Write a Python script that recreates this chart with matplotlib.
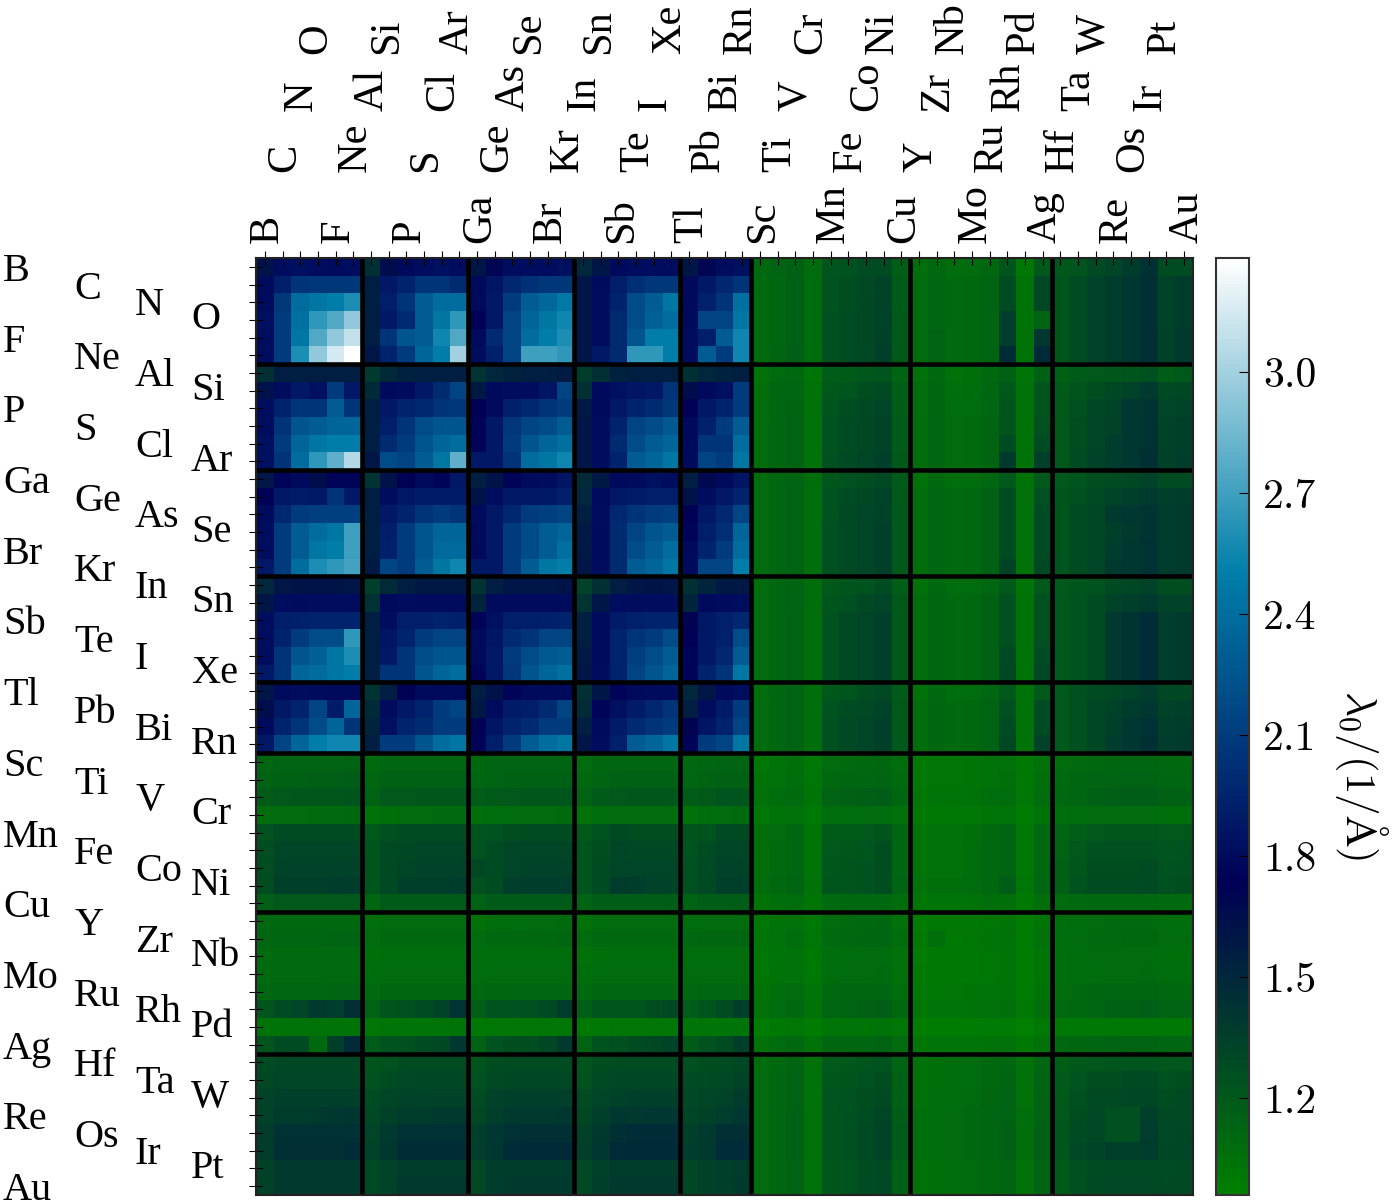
import numpy as np
import matplotlib
matplotlib.use("Agg")
import matplotlib.pyplot as plt
from matplotlib.transforms import ScaledTranslation

plt.rcParams['mathtext.fontset'] = 'cm'

elements = ['B', 'C', 'N', 'O', 'F', 'Ne', 'Al', 'Si', 'P', 'S', 'Cl', 'Ar', 'Ga', 'Ge', 'As', 'Se', 'Br', 'Kr',
            'In', 'Sn', 'Sb', 'Te', 'I', 'Xe', 'Tl', 'Pb', 'Bi', 'Rn', 'Sc', 'Ti', 'V', 'Cr', 'Mn', 'Fe', 'Co', 'Ni',
            'Cu', 'Y', 'Zr', 'Nb', 'Mo', 'Ru', 'Rh', 'Pd', 'Ag', 'Hf', 'Ta', 'W', 'Re', 'Os', 'Ir', 'Pt', 'Au']
block_edges = [6, 12, 18, 24, 28, 37, 45]
cbar_ticks = [1.2, 1.5, 1.8, 2.1, 2.4, 2.7, 3.0]

# p block rows, p block columns
pp = [
    [1.62,1.82,1.84,1.82,1.81,1.82, 1.45,1.65,1.80,1.82,1.84,1.82, 1.60,1.70,1.82,1.82,1.82,1.84, 1.50,1.60,1.80,1.82,1.82,1.82, 1.60,1.70,1.82,1.84],
    [1.81,1.92,2.05,2.07,2.07,2.07, 1.55,1.88,1.95,2.05,2.05,2.00, 1.80,1.86,1.97,2.03,2.07,2.07, 1.60,1.81,1.92,2.02,2.07,2.07, 1.80,1.88,1.97,2.05],
    [1.81,2.07,2.40,2.45,2.50,2.60, 1.55,1.92,2.05,2.30,2.40,2.40, 1.80,1.88,2.10,2.30,2.37,2.47, 1.60,1.82,1.95,2.20,2.30,2.45, 1.80,1.94,2.05,2.42],
    [1.84,2.10,2.42,2.65,2.75,2.95, 1.55,1.88,2.00,2.30,2.45,2.65, 1.74,1.88,2.15,2.35,2.45,2.55, 1.60,1.82,2.00,2.20,2.33,2.40, 1.80,2.15,2.15,2.45],
    [1.82,2.10,2.45,2.75,2.95,3.10, 1.55,2.05,2.25,2.30,2.55,2.75, 1.80,2.00,2.15,2.40,2.50,2.60, 1.60,1.82,2.00,2.25,2.50,2.50, 1.82,1.92,2.30,2.55],
    [1.82,2.10,2.60,2.95,3.15,3.28, 1.60,1.95,2.10,2.35,2.50,3.00, 1.82,1.94,2.15,2.70,2.70,2.65, 1.60,1.88,2.00,2.65,2.65,2.50, 1.82,2.30,2.10,2.55],
    [1.45,1.55,1.55,1.55,1.55,1.55, 1.38,1.48,1.53,1.55,1.55,1.55, 1.42,1.50,1.53,1.55,1.55,1.57, 1.37,1.45,1.53,1.55,1.55,1.55, 1.45,1.50,1.53,1.55],
    [1.63,1.82,1.88,1.84,2.10,1.88, 1.48,1.80,1.81,1.88,2.00,2.15, 1.58,1.80,1.82,1.82,1.86,2.15, 1.45,1.80,1.84,1.86,1.88,2.05, 1.65,1.80,1.84,2.10],
    [1.82,1.95,2.05,2.05,2.30,2.05, 1.55,1.88,1.95,1.98,2.05,2.07, 1.74,1.81,1.92,1.98,2.05,2.10, 1.58,1.80,1.88,1.95,2.00,2.07, 1.74,1.88,1.95,2.10],
    [1.82,2.05,2.25,2.30,2.35,2.35, 1.55,1.92,2.05,2.20,2.25,2.25, 1.76,1.88,2.07,2.15,2.20,2.30, 1.60,1.82,1.95,2.15,2.20,2.28, 1.80,1.94,2.10,2.30],
    [1.84,2.10,2.35,2.45,2.50,2.50, 1.55,2.00,2.10,2.25,2.35,2.40, 1.76,1.88,2.10,2.25,2.35,2.42, 1.60,1.82,2.00,2.20,2.30,2.35, 1.80,2.05,2.05,2.40],
    [1.84,2.05,2.40,2.65,2.80,3.05, 1.60,2.20,2.15,2.30,2.45,2.80, 1.88,1.88,2.05,2.40,2.45,2.55, 1.60,1.82,1.95,2.30,2.35,2.45, 1.80,2.15,2.10,2.45],
    [1.60,1.76,1.80,1.65,1.76,1.76, 1.42,1.62,1.74,1.80,1.76,1.88, 1.55,1.62,1.76,1.81,1.82,1.86, 1.48,1.58,1.80,1.81,1.84,1.82, 1.55,1.68,1.80,1.86],
    [1.74,1.88,1.90,1.89,2.05,1.88, 1.55,1.82,1.88,1.90,1.90,1.90, 1.62,1.82,1.88,1.88,1.89,1.94, 1.50,1.81,1.88,1.90,1.92,1.92, 1.62,1.82,1.88,1.95],
    [1.81,1.98,2.10,2.12,2.12,2.12, 1.55,1.88,1.95,2.05,2.10,2.05, 1.81,1.88,1.98,2.10,2.12,2.15, 1.55,1.82,1.98,2.05,2.10,2.12, 1.74,1.88,1.98,2.15],
    [1.82,2.10,2.30,2.40,2.45,2.70, 1.55,1.92,2.10,2.25,2.35,2.35, 1.80,1.88,2.10,2.20,2.30,2.35, 1.58,1.81,2.00,2.15,2.25,2.30, 1.76,1.92,2.02,2.35],
    [1.82,2.10,2.30,2.45,2.50,2.70, 1.55,1.94,2.10,2.25,2.38,2.38, 1.80,1.88,2.10,2.20,2.30,2.42, 1.58,1.81,2.00,2.20,2.30,2.40, 1.80,1.95,2.10,2.40],
    [1.88,2.10,2.40,2.60,2.65,2.72, 1.58,2.15,2.10,2.30,2.45,2.55, 1.88,1.88,2.10,2.30,2.45,2.50, 1.60,1.82,2.00,2.30,2.35,2.45, 1.80,2.15,2.15,2.50],
    [1.50,1.60,1.62,1.62,1.62,1.60, 1.35,1.48,1.55,1.58,1.58,1.58, 1.42,1.55,1.60,1.60,1.60,1.62, 1.33,1.45,1.55,1.60,1.62,1.60, 1.45,1.52,1.58,1.58],
    [1.60,1.82,1.81,1.82,1.82,1.82, 1.43,1.80,1.82,1.81,1.81,1.81, 1.52,1.81,1.81,1.81,1.81,1.81, 1.42,1.60,1.82,1.82,1.82,1.82, 1.52,1.80,1.81,1.82],
    [1.82,1.92,1.94,1.95,1.95,1.95, 1.55,1.82,1.92,1.92,1.95,1.94, 1.76,1.84,1.92,1.92,1.94,1.95, 1.55,1.81,1.90,1.94,1.95,1.95, 1.72,1.88,1.94,1.97],
    [1.82,1.95,2.10,2.20,2.20,2.65, 1.55,1.86,1.95,2.10,2.15,2.15, 1.80,1.86,2.00,2.05,2.15,2.15, 1.55,1.81,1.95,2.05,2.10,2.20, 1.74,1.88,1.94,2.20],
    [1.82,2.05,2.25,2.32,2.45,2.60, 1.55,1.88,2.05,2.20,2.25,2.25, 1.80,1.88,2.10,2.20,2.28,2.30, 1.58,1.81,1.95,2.12,2.20,2.30, 1.76,1.88,1.97,2.30],
    [1.88,2.05,2.35,2.40,2.45,2.50, 1.55,2.05,2.05,2.25,2.35,2.40, 1.76,1.88,2.07,2.25,2.35,2.42, 1.60,1.82,1.95,2.15,2.25,2.35, 1.76,1.95,2.05,2.45],
    [1.60,1.80,1.82,1.81,1.80,1.80, 1.42,1.55,1.74,1.80,1.80,1.80, 1.55,1.63,1.76,1.80,1.80,1.80, 1.45,1.60,1.76,1.80,1.81,1.81, 1.50,1.60,1.80,1.82],
    [1.65,1.88,1.95,2.15,1.90,2.35, 1.48,1.81,1.88,1.95,2.10,2.15, 1.58,1.81,1.90,1.92,2.00,2.15, 1.48,1.76,1.84,1.90,1.97,2.05, 1.55,1.82,1.90,2.10],
    [1.80,1.95,2.05,2.20,2.35,2.05, 1.52,1.84,1.95,2.00,2.10,2.10, 1.72,1.86,1.95,2.00,2.10,2.10, 1.55,1.81,1.90,2.00,2.05,2.10, 1.72,1.86,1.95,2.15],
    [1.88,2.15,2.35,2.50,2.55,2.55, 1.55,2.10,2.10,2.25,2.40,2.45, 1.76,1.92,2.10,2.30,2.40,2.45, 1.60,1.82,1.94,2.30,2.35,2.45, 1.76,2.10,2.15,2.45],
]

# p block rows, d block columns
pd_rows = [
    [1.10,1.13,1.15,1.08,1.22,1.24,1.27,1.27,1.16, 1.06,1.10,1.07,1.08,1.11,1.22,1.02,1.20, 1.20,1.23,1.28,1.32,1.37,1.43,1.27,1.27],
    [1.09,1.12,1.15,1.07,1.24,1.26,1.29,1.33,1.18, 1.08,1.12,1.09,1.10,1.13,1.27,1.04,1.30, 1.22,1.27,1.33,1.37,1.41,1.45,1.33,1.37],
    [1.09,1.12,1.15,1.07,1.24,1.26,1.30,1.33,1.18, 1.08,1.12,1.09,1.10,1.13,1.27,1.04,1.30, 1.22,1.27,1.33,1.37,1.41,1.45,1.33,1.37],
    [1.09,1.12,1.15,1.07,1.25,1.27,1.30,1.33,1.19, 1.08,1.12,1.09,1.10,1.13,1.36,1.04,1.13, 1.22,1.27,1.33,1.37,1.41,1.45,1.33,1.37],
    [1.09,1.12,1.15,1.07,1.25,1.27,1.30,1.34,1.19, 1.08,1.14,1.09,1.10,1.13,1.36,1.04,1.40, 1.22,1.27,1.33,1.37,1.41,1.45,1.34,1.38],
    [1.09,1.13,1.16,1.07,1.25,1.27,1.30,1.35,1.19, 1.08,1.14,1.09,1.10,1.13,1.46,1.04,1.48, 1.22,1.27,1.33,1.37,1.41,1.45,1.34,1.38],
    [1.05,1.09,1.10,1.03,1.17,1.18,1.21,1.23,1.13, 1.05,1.10,1.05,1.06,1.10,1.15,1.03,1.15, 1.15,1.18,1.20,1.21,1.22,1.25,1.17,1.20],
    [1.06,1.11,1.12,1.04,1.20,1.23,1.26,1.28,1.16, 1.06,1.11,1.06,1.07,1.12,1.20,1.04,1.22, 1.18,1.22,1.26,1.30,1.33,1.38,1.28,1.30],
    [1.07,1.11,1.13,1.05,1.23,1.26,1.29,1.32,1.17, 1.06,1.11,1.07,1.08,1.12,1.22,1.04,1.22, 1.19,1.25,1.30,1.33,1.40,1.42,1.32,1.33],
    [1.07,1.12,1.14,1.05,1.24,1.27,1.30,1.33,1.18, 1.07,1.12,1.08,1.09,1.13,1.22,1.04,1.25, 1.20,1.26,1.31,1.33,1.40,1.43,1.33,1.35],
    [1.07,1.12,1.14,1.05,1.24,1.27,1.30,1.33,1.18, 1.07,1.12,1.08,1.09,1.13,1.27,1.04,1.27, 1.20,1.26,1.31,1.36,1.40,1.43,1.33,1.35],
    [1.07,1.12,1.14,1.05,1.25,1.28,1.31,1.35,1.19, 1.07,1.12,1.08,1.09,1.13,1.38,1.04,1.35, 1.20,1.27,1.33,1.36,1.40,1.45,1.34,1.36],
    [1.08,1.12,1.13,1.06,1.21,1.24,1.26,1.29,1.18, 1.05,1.10,1.06,1.08,1.12,1.20,1.04,1.20, 1.20,1.23,1.26,1.27,1.30,1.33,1.27,1.27],
    [1.08,1.12,1.14,1.06,1.24,1.27,1.30,1.33,1.19, 1.07,1.12,1.09,1.10,1.15,1.27,1.05,1.25, 1.22,1.25,1.28,1.33,1.35,1.38,1.35,1.37],
    [1.08,1.12,1.14,1.06,1.24,1.28,1.31,1.34,1.20, 1.07,1.12,1.09,1.10,1.15,1.27,1.05,1.27, 1.22,1.27,1.30,1.38,1.40,1.42,1.37,1.38],
    [1.08,1.12,1.14,1.06,1.25,1.28,1.31,1.35,1.20, 1.07,1.12,1.09,1.10,1.15,1.27,1.05,1.27, 1.22,1.27,1.30,1.35,1.38,1.42,1.37,1.38],
    [1.08,1.12,1.14,1.06,1.25,1.28,1.31,1.35,1.20, 1.07,1.12,1.09,1.10,1.15,1.27,1.05,1.27, 1.22,1.27,1.30,1.36,1.40,1.44,1.37,1.38],
    [1.08,1.12,1.14,1.06,1.25,1.28,1.32,1.35,1.20, 1.07,1.12,1.09,1.10,1.15,1.33,1.05,1.30, 1.23,1.27,1.32,1.38,1.40,1.44,1.37,1.38],
    [1.07,1.11,1.13,1.06,1.19,1.22,1.24,1.27,1.16, 1.05,1.10,1.07,1.08,1.12,1.20,1.03,1.20, 1.20,1.22,1.24,1.28,1.30,1.33,1.26,1.26],
    [1.08,1.12,1.13,1.06,1.22,1.25,1.29,1.32,1.19, 1.07,1.11,1.09,1.10,1.15,1.25,1.04,1.25, 1.20,1.24,1.27,1.33,1.35,1.38,1.33,1.33],
    [1.08,1.12,1.14,1.06,1.24,1.28,1.31,1.35,1.19, 1.07,1.11,1.09,1.10,1.15,1.25,1.04,1.25, 1.20,1.24,1.27,1.38,1.42,1.46,1.36,1.38],
    [1.08,1.12,1.14,1.06,1.24,1.28,1.31,1.35,1.19, 1.07,1.11,1.09,1.10,1.15,1.25,1.04,1.25, 1.20,1.24,1.27,1.38,1.42,1.46,1.36,1.38],
    [1.08,1.12,1.14,1.06,1.24,1.28,1.31,1.35,1.19, 1.07,1.11,1.09,1.10,1.15,1.28,1.04,1.27, 1.20,1.24,1.27,1.38,1.42,1.46,1.36,1.38],
    [1.08,1.12,1.14,1.06,1.24,1.28,1.31,1.35,1.19, 1.07,1.11,1.09,1.10,1.15,1.30,1.04,1.30, 1.20,1.24,1.27,1.38,1.42,1.46,1.36,1.38],
    [1.07,1.12,1.14,1.06,1.20,1.23,1.26,1.29,1.18, 1.05,1.10,1.07,1.08,1.12,1.20,1.04,1.20, 1.20,1.25,1.27,1.30,1.33,1.36,1.30,1.30],
    [1.08,1.12,1.14,1.06,1.24,1.27,1.29,1.33,1.19, 1.07,1.11,1.09,1.10,1.14,1.25,1.04,1.27, 1.20,1.25,1.30,1.34,1.37,1.40,1.33,1.35],
    [1.08,1.12,1.14,1.06,1.25,1.29,1.32,1.35,1.19, 1.07,1.11,1.09,1.10,1.14,1.27,1.04,1.27, 1.20,1.25,1.30,1.35,1.40,1.44,1.35,1.37],
    [1.08,1.12,1.14,1.06,1.25,1.29,1.32,1.35,1.20, 1.07,1.11,1.09,1.10,1.14,1.30,1.04,1.33, 1.20,1.25,1.30,1.36,1.40,1.45,1.36,1.38],
]

# d block rows, p block columns
dp = [
    [1.12,1.13,1.13,1.13,1.13,1.14, 1.09,1.12,1.12,1.12,1.12,1.12, 1.10,1.13,1.13,1.13,1.13,1.13, 1.08,1.11,1.12,1.12,1.12,1.12, 1.10,1.12,1.13,1.13],
    [1.14,1.15,1.15,1.16,1.16,1.17, 1.11,1.15,1.15,1.15,1.15,1.15, 1.12,1.14,1.15,1.15,1.15,1.15, 1.10,1.13,1.15,1.15,1.15,1.15, 1.12,1.14,1.15,1.15],
    [1.18,1.20,1.21,1.21,1.21,1.22, 1.14,1.20,1.20,1.21,1.21,1.21, 1.17,1.19,1.20,1.21,1.21,1.21, 1.14,1.18,1.20,1.21,1.21,1.21, 1.17,1.19,1.23,1.22],
    [1.07,1.08,1.08,1.09,1.09,1.10, 1.04,1.06,1.08,1.08,1.09,1.09, 1.06,1.07,1.08,1.08,1.08,1.09, 1.04,1.07,1.08,1.08,1.08,1.08, 1.05,1.07,1.08,1.09],
    [1.24,1.27,1.27,1.27,1.27,1.27, 1.20,1.25,1.27,1.27,1.27,1.27, 1.22,1.24,1.26,1.27,1.27,1.27, 1.20,1.24,1.28,1.26,1.26,1.26, 1.22,1.24,1.28,1.28],
    [1.26,1.31,1.31,1.31,1.31,1.31, 1.22,1.28,1.30,1.31,1.31,1.31, 1.24,1.27,1.31,1.31,1.31,1.31, 1.22,1.26,1.31,1.30,1.30,1.30, 1.24,1.27,1.31,1.31],
    [1.26,1.33,1.33,1.33,1.33,1.33, 1.22,1.28,1.31,1.33,1.33,1.33, 1.30,1.27,1.32,1.33,1.33,1.33, 1.23,1.27,1.32,1.32,1.32,1.32, 1.25,1.28,1.33,1.33],
    [1.26,1.35,1.35,1.35,1.36,1.37, 1.22,1.28,1.35,1.35,1.35,1.36, 1.25,1.27,1.35,1.36,1.36,1.36, 1.23,1.27,1.37,1.36,1.33,1.33, 1.25,1.28,1.35,1.35],
    [1.16,1.20,1.20,1.20,1.20,1.20, 1.12,1.18,1.18,1.18,1.18,1.18, 1.14,1.18,1.18,1.18,1.18,1.18, 1.13,1.17,1.17,1.17,1.17,1.17, 1.14,1.17,1.17,1.17],
    [1.10,1.10,1.10,1.10,1.10,1.10, 1.06,1.08,1.08,1.08,1.08,1.08, 1.05,1.07,1.07,1.08,1.08,1.09, 1.04,1.07,1.08,1.08,1.08,1.08, 1.07,1.08,1.08,1.08],
    [1.12,1.12,1.12,1.12,1.13,1.13, 1.08,1.10,1.10,1.10,1.10,1.10, 1.08,1.10,1.10,1.10,1.10,1.11, 1.08,1.10,1.10,1.10,1.10,1.10, 1.10,1.11,1.11,1.11],
    [1.09,1.09,1.09,1.09,1.09,1.09, 1.06,1.07,1.07,1.07,1.07,1.07, 1.07,1.07,1.07,1.07,1.07,1.07, 1.05,1.06,1.07,1.07,1.07,1.07, 1.07,1.07,1.07,1.07],
    [1.09,1.09,1.09,1.09,1.09,1.09, 1.07,1.08,1.08,1.08,1.08,1.08, 1.07,1.08,1.08,1.08,1.08,1.08, 1.06,1.08,1.08,1.08,1.08,1.08, 1.08,1.08,1.08,1.08],
    [1.12,1.12,1.12,1.12,1.13,1.13, 1.09,1.11,1.11,1.11,1.11,1.11, 1.10,1.11,1.12,1.12,1.12,1.12, 1.09,1.11,1.12,1.12,1.12,1.12, 1.10,1.12,1.12,1.12],
    [1.22,1.27,1.32,1.38,1.36,1.45, 1.14,1.22,1.25,1.27,1.33,1.42, 1.16,1.24,1.24,1.25,1.28,1.37, 1.16,1.22,1.22,1.22,1.26,1.30, 1.17,1.22,1.27,1.35],
    [1.04,1.04,1.04,1.04,1.04,1.04, 1.02,1.03,1.03,1.03,1.03,1.04, 1.01,1.02,1.02,1.02,1.02,1.02, 1.00,1.01,1.02,1.02,1.02,1.02, 1.03,1.03,1.03,1.03],
    [1.22,1.27,1.27,1.10,1.35,1.48, 1.18,1.24,1.25,1.27,1.30,1.40, 1.14,1.24,1.26,1.26,1.30,1.38, 1.14,1.24,1.25,1.27,1.30,1.33, 1.18,1.24,1.27,1.35],
    [1.27,1.30,1.30,1.30,1.30,1.30, 1.22,1.24,1.27,1.27,1.27,1.27, 1.22,1.26,1.27,1.27,1.27,1.27, 1.22,1.26,1.27,1.27,1.27,1.27, 1.25,1.26,1.27,1.30],
    [1.30,1.31,1.31,1.31,1.31,1.31, 1.24,1.27,1.29,1.30,1.30,1.30, 1.25,1.28,1.30,1.30,1.30,1.30, 1.24,1.28,1.30,1.30,1.30,1.30, 1.27,1.28,1.29,1.33],
    [1.33,1.35,1.35,1.35,1.35,1.35, 1.27,1.31,1.33,1.33,1.34,1.34, 1.27,1.33,1.35,1.35,1.35,1.35, 1.27,1.32,1.34,1.35,1.35,1.35, 1.29,1.31,1.33,1.37],
    [1.34,1.37,1.37,1.38,1.39,1.41, 1.29,1.34,1.37,1.37,1.38,1.38, 1.30,1.35,1.38,1.38,1.38,1.40, 1.30,1.35,1.40,1.38,1.40,1.40, 1.31,1.34,1.36,1.40],
    [1.37,1.43,1.43,1.43,1.43,1.44, 1.32,1.38,1.44,1.44,1.44,1.44, 1.35,1.40,1.44,1.45,1.45,1.45, 1.34,1.38,1.45,1.46,1.46,1.46, 1.35,1.38,1.45,1.45],
    [1.37,1.45,1.45,1.45,1.45,1.46, 1.33,1.39,1.46,1.46,1.46,1.46, 1.36,1.41,1.46,1.48,1.48,1.48, 1.35,1.39,1.48,1.48,1.48,1.48, 1.36,1.38,1.47,1.47],
    [1.34,1.38,1.38,1.38,1.38,1.38, 1.28,1.33,1.37,1.37,1.37,1.37, 1.29,1.36,1.37,1.37,1.37,1.37, 1.29,1.34,1.37,1.37,1.37,1.37, 1.30,1.34,1.35,1.37],
    [1.34,1.38,1.38,1.38,1.38,1.38, 1.28,1.33,1.38,1.38,1.38,1.38, 1.29,1.36,1.38,1.38,1.38,1.38, 1.29,1.35,1.38,1.38,1.38,1.38, 1.30,1.34,1.35,1.38],
]

# d block rows, d block columns
dd = [
    [1.02,1.04,1.06,1.01,1.08,1.09,1.10,1.11,1.07, 1.00,1.02,1.02,1.03,1.05,1.05,1.00,1.05, 1.07,1.09,1.10,1.11,1.12,1.12,1.10,1.10],
    [1.04,1.05,1.07,1.02,1.10,1.11,1.12,1.13,1.09, 1.01,1.02,1.02,1.03,1.05,1.06,1.00,1.06, 1.09,1.11,1.13,1.13,1.14,1.14,1.12,1.12],
    [1.05,1.07,1.09,1.03,1.14,1.15,1.16,1.17,1.11, 1.02,1.03,1.03,1.04,1.07,1.08,1.01,1.08, 1.10,1.12,1.15,1.16,1.17,1.17,1.15,1.15],
    [1.02,1.04,1.05,1.01,1.07,1.07,1.08,1.08,1.05, 1.00,1.00,1.01,1.01,1.03,1.03,0.98,1.04, 1.06,1.07,1.08,1.08,1.08,1.08,1.06,1.06],
    [1.06,1.08,1.11,1.03,1.18,1.18,1.20,1.22,1.12, 1.03,1.05,1.05,1.06,1.10,1.13,1.01,1.10, 1.12,1.16,1.20,1.21,1.21,1.21,1.20,1.20],
    [1.06,1.09,1.12,1.03,1.20,1.21,1.23,1.26,1.12, 1.03,1.05,1.05,1.07,1.10,1.13,1.01,1.10, 1.14,1.20,1.25,1.25,1.25,1.25,1.23,1.24],
    [1.06,1.09,1.12,1.03,1.21,1.22,1.24,1.26,1.12, 1.03,1.05,1.05,1.07,1.10,1.13,1.01,1.10, 1.15,1.21,1.26,1.26,1.26,1.27,1.24,1.25],
    [1.07,1.10,1.13,1.04,1.22,1.22,1.24,1.26,1.13, 1.04,1.06,1.06,1.08,1.10,1.17,1.02,1.12, 1.15,1.24,1.27,1.27,1.27,1.28,1.25,1.26],
    [1.04,1.06,1.07,1.03,1.09,1.10,1.10,1.10,1.07, 1.02,1.03,1.03,1.04,1.06,1.06,1.00,1.06, 1.08,1.09,1.10,1.10,1.10,1.10,1.09,1.09],
    [1.02,1.04,1.05,1.01,1.08,1.09,1.10,1.11,1.05, 0.98,1.00,1.00,1.01,1.02,1.03,0.98,1.03, 1.06,1.07,1.08,1.09,1.09,1.09,1.07,1.07],
    [1.03,1.05,1.07,1.02,1.09,1.10,1.11,1.12,1.07, 1.00,1.06,1.01,1.02,1.03,1.04,0.99,1.05, 1.07,1.08,1.09,1.09,1.10,1.10,1.08,1.08],
    [1.02,1.03,1.05,1.00,1.06,1.07,1.08,1.08,1.05, 0.99,1.00,1.00,1.01,1.02,1.03,0.98,1.03, 1.06,1.07,1.08,1.08,1.08,1.08,1.06,1.06],
    [1.02,1.04,1.05,1.01,1.07,1.08,1.08,1.09,1.05, 1.00,1.00,1.00,1.01,1.02,1.03,0.98,1.03, 1.06,1.07,1.07,1.08,1.08,1.09,1.07,1.07],
    [1.04,1.06,1.08,1.03,1.10,1.11,1.11,1.12,1.07, 1.01,1.01,1.02,1.03,1.03,1.04,0.99,1.04, 1.07,1.09,1.11,1.12,1.11,1.12,1.10,1.10],
    [1.05,1.08,1.10,1.04,1.12,1.13,1.15,1.16,1.10, 1.02,1.03,1.03,1.04,1.05,1.06,1.00,1.06, 1.09,1.10,1.12,1.15,1.15,1.16,1.14,1.14],
    [0.99,1.00,1.02,0.98,1.03,1.03,1.03,1.04,1.02, 0.97,0.98,0.98,0.99,0.99,0.99,0.96,1.00, 1.01,1.01,1.01,1.01,1.01,1.01,1.01,1.01],
    [1.05,1.08,1.10,1.04,1.11,1.11,1.12,1.14,1.08, 1.02,1.03,1.03,1.03,1.04,1.05,1.00,1.05, 1.10,1.11,1.12,1.13,1.14,1.14,1.12,1.12],
    [1.07,1.10,1.13,1.05,1.20,1.20,1.22,1.24,1.13, 1.05,1.06,1.07,1.08,1.10,1.12,1.05,1.12, 1.16,1.19,1.21,1.22,1.23,1.23,1.21,1.21],
    [1.08,1.11,1.14,1.05,1.21,1.22,1.25,1.26,1.15, 1.05,1.06,1.07,1.08,1.10,1.13,1.05,1.13, 1.18,1.23,1.26,1.26,1.28,1.28,1.25,1.26],
    [1.08,1.11,1.14,1.05,1.22,1.24,1.26,1.28,1.15, 1.05,1.07,1.07,1.09,1.11,1.14,1.05,1.14, 1.19,1.25,1.28,1.28,1.30,1.30,1.26,1.28],
    [1.08,1.12,1.15,1.05,1.22,1.25,1.27,1.31,1.17, 1.06,1.07,1.08,1.10,1.12,1.14,1.06,1.14, 1.20,1.26,1.29,1.25,1.25,1.35,1.28,1.29],
    [1.08,1.12,1.15,1.05,1.22,1.25,1.28,1.33,1.18, 1.06,1.07,1.08,1.10,1.12,1.15,1.06,1.15, 1.21,1.27,1.29,1.25,1.25,1.36,1.29,1.30],
    [1.08,1.12,1.15,1.05,1.22,1.25,1.28,1.33,1.18, 1.06,1.07,1.08,1.10,1.12,1.15,1.06,1.15, 1.21,1.29,1.33,1.35,1.35,1.37,1.30,1.31],
    [1.08,1.11,1.14,1.05,1.21,1.24,1.27,1.28,1.15, 1.05,1.06,1.07,1.09,1.10,1.13,1.05,1.13, 1.18,1.25,1.27,1.28,1.28,1.28,1.27,1.28],
    [1.08,1.11,1.14,1.05,1.21,1.24,1.27,1.29,1.15, 1.05,1.06,1.07,1.09,1.10,1.13,1.05,1.13, 1.18,1.25,1.28,1.29,1.29,1.29,1.28,1.29],
]

lambda0 = np.block([[np.array(pp), np.array(pd_rows)], [np.array(dp), np.array(dd)]])

W, H = 1395, 1203
fig = plt.figure(figsize=(W / 100, H / 100), dpi=100)
ax = fig.add_axes([256 / W, 1 - 1195 / H, 937 / W, 937 / H])
cax = fig.add_axes([1216 / W, 1 - 1195 / H, 33 / W, 937 / H])

im = ax.imshow(lambda0, cmap='ocean', vmin=0.96, vmax=3.283, interpolation='nearest', aspect='auto')

for e in block_edges:
    ax.axvline(e - 0.5, color='k', lw=3.3)
    ax.axhline(e - 0.5, color='k', lw=3.3)

idx = np.arange(len(elements))
ax.xaxis.tick_top()
ax.set_xticks(idx, labels=elements)
ax.set_yticks(idx, labels=elements)
ax.tick_params(axis='both', direction='inout', length=10, width=0.8)

# four staggered label rows, distances from the axes in pixels
top_pad = [15, 86, 147, 204]
top_shift = [3, 2, 1, -1.5]
left_pad = [253, 182, 121, 65]
left_shift = [0, 0, 1, 4.5]
for i, tick in enumerate(ax.xaxis.get_major_ticks()):
    tick.set_pad(top_pad[i % 4] * 0.72 - 5)
    lab = tick.label2
    lab.set_rotation(90)
    lab.set_va('bottom')
    lab.set_family('Liberation Serif')
    lab.set_fontsize(30.5)
    lab.set_transform(lab.get_transform() + ScaledTranslation(top_shift[i % 4] / 100, 0, fig.dpi_scale_trans))
for i, tick in enumerate(ax.yaxis.get_major_ticks()):
    tick.set_pad(left_pad[i % 4] * 0.72 - 5)
    lab = tick.label1
    lab.set_ha('left')
    lab.set_family('Liberation Serif')
    lab.set_fontsize(29)
    lab.set_transform(lab.get_transform() + ScaledTranslation(0, left_shift[i % 4] / 100, fig.dpi_scale_trans))

for s in ax.spines.values():
    s.set_linewidth(1.5)
    s.set_color('#222222')

cbar = fig.colorbar(im, cax=cax, ticks=cbar_ticks, format='%.1f')
cbar.outline.set_linewidth(1.5)
cbar.outline.set_edgecolor('#333333')
cax.tick_params(direction='in', length=7, width=0.8, pad=10, labelsize=30)
for t in cax.get_yticklabels():
    t.set_family('cmr10')

fig.text(1362 / W, 1 - 775 / H, r'$\lambda_0/(1/\mathrm{\AA})$', rotation=270, fontsize=31, ha='center', va='center')

fig.savefig('out.png', dpi=100)
